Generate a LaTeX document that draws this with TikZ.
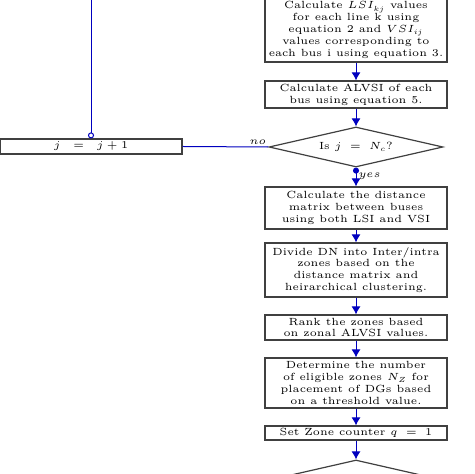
\RequirePackage{fix-cm}
\documentclass[tikz,border=0pt]{standalone}
\usetikzlibrary{shapes.geometric,arrows.meta}
\DeclareMathSizes{5.2}{5.2}{3.7}{3}
\tikzset{
  txt/.style={font=\fontsize{5.2}{5.9}\selectfont},
  proc/.style={txt, draw=black!75, line width=0.6pt, fill=white, minimum width=91pt,
    align=center, inner sep=0.5pt},
  dec/.style={txt, diamond, draw=black!75, line width=0.6pt, fill=white, minimum width=87pt,
    minimum height=20pt, inner sep=0pt, aspect=4.35},
  conn/.style={draw=blue!75!black, line width=0.5pt},
  flow/.style={conn, -{Latex[length=4pt,width=4.5pt]}},
  lbl/.style={txt, inner sep=1pt},
}
\begin{document}
\begin{tikzpicture}[x=0.5pt,y=-0.5pt]
\useasboundingbox (0,0) rectangle (474,474);
\node[proc, minimum height=32pt] (b1) at (356,30)
  {Calculate $LSI_{kj}$ values\\ for each line k using\\ equation 2 and $VSI_{ij}$\\ values corresponding to\\ each bus i using equation 3.};
\node[proc, minimum height=13.5pt] (b2) at (356,94.5)
  {Calculate ALVSI of each\\ bus using equation 5.};
\node[dec] (d1) at (356,147) {Is $j\;=\;N_c$?};
\node[proc, minimum height=7.5pt] (jb) at (91,146.5) {$j\;\;=\;\;j+1$};
\node[proc, minimum height=21pt] (b3) at (356,208)
  {Calculate the distance\\ matrix between buses\\ using both LSI and VSI};
\node[proc, minimum height=27pt] (b4) at (356,270)
  {Divide DN into Inter/intra\\ zones based on the\\ distance matrix and\\ heirarchical clustering.};
\node[proc, minimum height=12.5pt] (b5) at (356,327.5)
  {Rank the zones based\\ on zonal ALVSI values.};
\node[proc, minimum height=25pt] (b6) at (356,383)
  {Determine the number\\ of eligible zones $N_Z$ for\\ placement of DGs based\\ on a threshold value.};
\node[proc, minimum height=7pt] (b7) at (356,433)
  {Set Zone counter $q\;=\;1$};
\node[dec] (d2) at (356,480) {};
\coordinate (top) at (91,0);

\draw[flow] (b1) -- (b2);
\draw[flow] (b2) -- (d1);
\draw[conn] (d1.west) -- (jb.east);
\node[lbl, anchor=south east] at (d1.west) {$no$};
\draw[conn, {Circle[open,length=3pt,width=3pt]}-] (jb.north) -- (top);
\draw[flow, {Circle[length=3pt,width=3pt]}-{Latex[length=4pt,width=4.5pt]}] (d1.south) -- node[lbl, right, pos=0.45] {$yes$} (b3.north);
\draw[flow] (b3) -- (b4);
\draw[flow] (b4) -- (b5);
\draw[flow] (b5) -- (b6);
\draw[flow] (b6) -- (b7);
\draw[flow] (b7) -- (d2);
\end{tikzpicture}
\end{document}
